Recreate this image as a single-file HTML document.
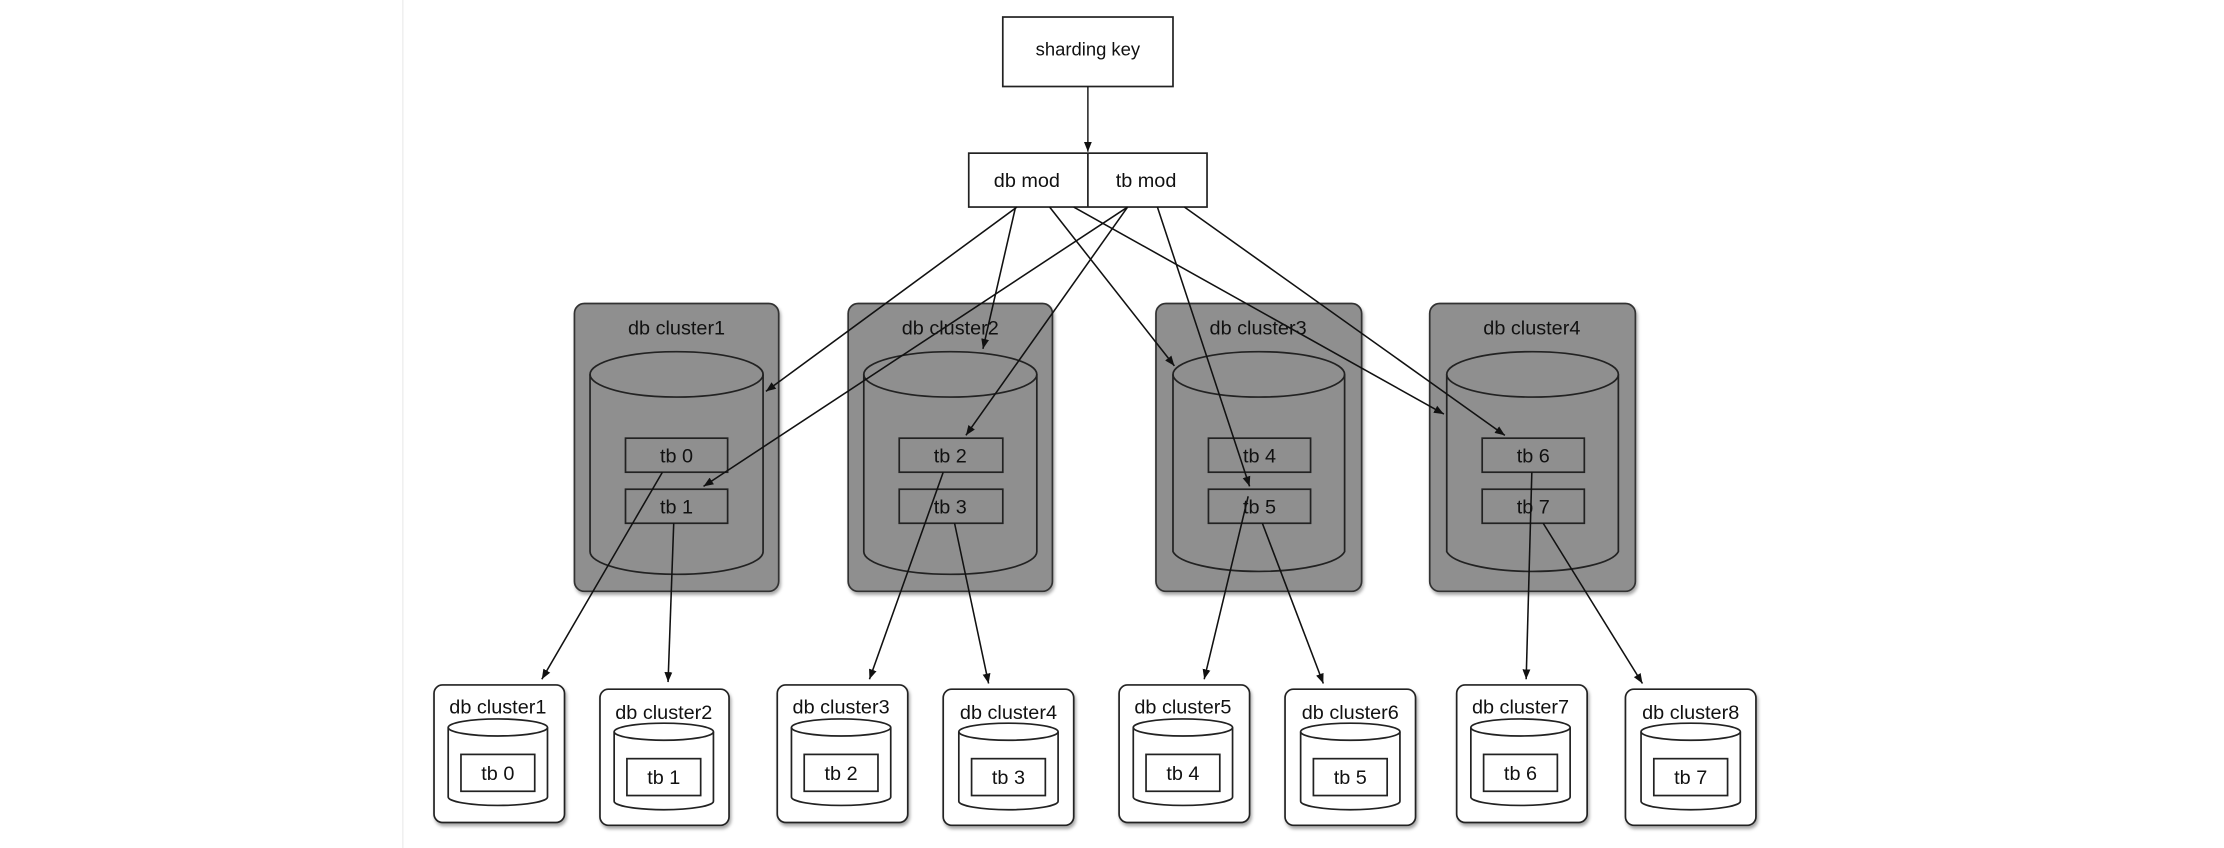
<!DOCTYPE html>
<html><head><meta charset="utf-8"><style>
html,body{margin:0;padding:0;background:#fff;width:2224px;height:848px;overflow:hidden}
svg{display:block}
text{font-family:"Liberation Sans",sans-serif;fill:#111}
</style></head><body>
<svg width="2224" height="848" viewBox="0 0 1568 598" preserveAspectRatio="none" xmlns="http://www.w3.org/2000/svg">
<defs>
<marker id="a" viewBox="0 0 10 10" refX="10" refY="5" markerWidth="7" markerHeight="7" orient="auto" markerUnits="userSpaceOnUse"><path d="M0,1 L10,5 L0,9 z" fill="#111"/></marker>
<filter id="sh" x="-10%" y="-10%" width="130%" height="130%"><feDropShadow dx="1" dy="2" stdDeviation="1.2" flood-color="#000" flood-opacity="0.35"/></filter>
</defs>
<line x1="284" y1="0" x2="284" y2="598" stroke="#eee" stroke-width="1"/>

<!-- top -->
<rect x="707" y="12" width="120" height="49" fill="#fff" stroke="#222" stroke-width="1.2"/>
<text x="767" y="39" font-size="13" text-anchor="middle">sharding key</text>
<line x1="767" y1="61" x2="767" y2="107" stroke="#111" marker-end="url(#a)"/>
<rect x="683" y="108" width="168" height="38" fill="#fff" stroke="#222" stroke-width="1.2"/>
<line x1="767" y1="108" x2="767" y2="146" stroke="#222" stroke-width="1.2"/>
<text x="724" y="132" font-size="14" text-anchor="middle">db mod</text>
<text x="808" y="132" font-size="14" text-anchor="middle">tb mod</text>

<!-- gray clusters -->
<g filter="url(#sh)" fill="#8f8f8f" stroke="#333" stroke-width="1.2">
<rect x="405" y="214" width="144" height="203" rx="7"/>
<rect x="598" y="214" width="144" height="203" rx="7"/>
<rect x="815" y="214" width="145" height="203" rx="7"/>
<rect x="1008" y="214" width="145" height="203" rx="7"/>
</g>
<g font-size="14" text-anchor="middle">
<text x="477" y="236">db cluster1</text>
<text x="670" y="236">db cluster2</text>
<text x="887" y="236">db cluster3</text>
<text x="1080" y="236">db cluster4</text>
</g>
<g fill="none" stroke="#222" stroke-width="1.2">
<path d="M416,264 V389 A61,16 0 0 0 538,389 V264"/><ellipse cx="477" cy="264" rx="61" ry="16"/>
<path d="M609,264 V389 A61,16 0 0 0 731,389 V264"/><ellipse cx="670" cy="264" rx="61" ry="16"/>
<path d="M827,264 V389 A61,16 0 0 0 948,389 V264"/><ellipse cx="887.5" cy="264" rx="60.5" ry="16"/>
<path d="M1020,264 V389 A61,16 0 0 0 1141,389 V264"/><ellipse cx="1080.5" cy="264" rx="60.5" ry="16"/>
<rect x="441" y="309" width="72" height="24"/><rect x="441" y="345" width="72" height="24"/>
<rect x="634" y="309" width="73" height="24"/><rect x="634" y="345" width="73" height="24"/>
<rect x="852" y="309" width="72" height="24"/><rect x="852" y="345" width="72" height="24"/>
<rect x="1045" y="309" width="72" height="24"/><rect x="1045" y="345" width="72" height="24"/>
</g>
<g font-size="14" text-anchor="middle">
<text x="477" y="326">tb 0</text><text x="477" y="362">tb 1</text>
<text x="670" y="326">tb 2</text><text x="670" y="362">tb 3</text>
<text x="888" y="326">tb 4</text><text x="888" y="362">tb 5</text>
<text x="1081" y="326">tb 6</text><text x="1081" y="362">tb 7</text>
</g>

<!-- bottom clusters -->
<g filter="url(#sh)" fill="#fff" stroke="#222" stroke-width="1.2">
<rect x="306" y="483" width="92" height="97" rx="6"/>
<rect x="423" y="486" width="91" height="96" rx="6"/>
<rect x="548" y="483" width="92" height="97" rx="6"/>
<rect x="665" y="486" width="92" height="96" rx="6"/>
<rect x="789" y="483" width="92" height="97" rx="6"/>
<rect x="906" y="486" width="92" height="96" rx="6"/>
<rect x="1027" y="483" width="92" height="97" rx="6"/>
<rect x="1146" y="486" width="92" height="96" rx="6"/>
</g>
<g font-size="14" text-anchor="middle">
<text x="351" y="503">db cluster1</text>
<text x="468" y="507">db cluster2</text>
<text x="593" y="503">db cluster3</text>
<text x="711" y="507">db cluster4</text>
<text x="834" y="503">db cluster5</text>
<text x="952" y="507">db cluster6</text>
<text x="1072" y="503">db cluster7</text>
<text x="1192" y="507">db cluster8</text>
</g>
<g fill="none" stroke="#222" stroke-width="1.2">
<path d="M316,513 V562 A35,6 0 0 0 386,562 V513"/><ellipse cx="351" cy="513" rx="35" ry="6"/><rect x="325" y="532" width="52" height="26"/>
<path d="M433,516 V565 A35,6 0 0 0 503,565 V516"/><ellipse cx="468" cy="516" rx="35" ry="6"/><rect x="442" y="535" width="52" height="26"/>
<path d="M558,513 V562 A35,6 0 0 0 628,562 V513"/><ellipse cx="593" cy="513" rx="35" ry="6"/><rect x="567" y="532" width="52" height="26"/>
<path d="M676,516 V565 A35,6 0 0 0 746,565 V516"/><ellipse cx="711" cy="516" rx="35" ry="6"/><rect x="685" y="535" width="52" height="26"/>
<path d="M799,513 V562 A35,6 0 0 0 869,562 V513"/><ellipse cx="834" cy="513" rx="35" ry="6"/><rect x="808" y="532" width="52" height="26"/>
<path d="M917,516 V565 A35,6 0 0 0 987,565 V516"/><ellipse cx="952" cy="516" rx="35" ry="6"/><rect x="926" y="535" width="52" height="26"/>
<path d="M1037,513 V562 A35,6 0 0 0 1107,562 V513"/><ellipse cx="1072" cy="513" rx="35" ry="6"/><rect x="1046" y="532" width="52" height="26"/>
<path d="M1157,516 V565 A35,6 0 0 0 1227,565 V516"/><ellipse cx="1192" cy="516" rx="35" ry="6"/><rect x="1166" y="535" width="52" height="26"/>
</g>
<g font-size="14" text-anchor="middle">
<text x="351" y="550">tb 0</text><text x="468" y="553">tb 1</text>
<text x="593" y="550">tb 2</text><text x="711" y="553">tb 3</text>
<text x="834" y="550">tb 4</text><text x="952" y="553">tb 5</text>
<text x="1072" y="550">tb 6</text><text x="1192" y="553">tb 7</text>
</g>

<!-- arrows -->
<g stroke="#111" stroke-width="1.1" fill="none" marker-end="url(#a)">
<line x1="717" y1="146" x2="540" y2="276"/>
<line x1="716" y1="146" x2="693" y2="246"/>
<line x1="740" y1="146" x2="828" y2="258"/>
<line x1="757" y1="146" x2="1018" y2="292"/>
<line x1="795" y1="146" x2="496" y2="343"/>
<line x1="795" y1="146" x2="681" y2="307"/>
<line x1="816" y1="146" x2="881" y2="343"/>
<line x1="835" y1="146" x2="1061" y2="307"/>
<line x1="467" y1="333" x2="382" y2="479"/>
<line x1="475" y1="369" x2="471" y2="481"/>
<line x1="665" y1="333" x2="613" y2="479"/>
<line x1="673" y1="369" x2="697" y2="482"/>
<line x1="880" y1="350" x2="849" y2="479"/>
<line x1="890" y1="369" x2="933" y2="482"/>
<line x1="1080" y1="333" x2="1076" y2="479"/>
<line x1="1088" y1="369" x2="1158" y2="482"/>
</g>
</svg>
</body></html>
